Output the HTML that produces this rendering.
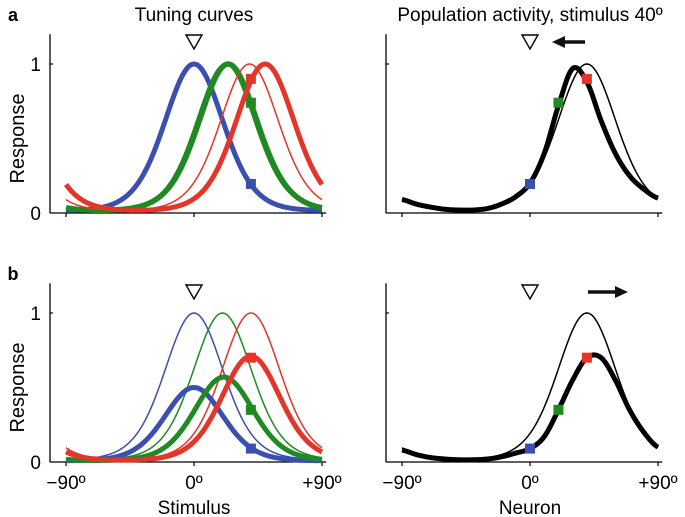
<!DOCTYPE html>
<html><head><meta charset="utf-8">
<style>
body{margin:0;background:#fff;}
svg{display:block;font-family:"Liberation Sans",Arial,sans-serif;}
</style></head>
<body>
<svg id="fig" width="685" height="517" viewBox="0 0 685 517"></svg>
<script>
// ---- data ----
const tuneTopMu   = [0, 22, 24, 39, 50];
const tuneTopAmp  = [1, 1, 1, 1, 1];
const tuneTopThick= [1, 0, 1, 0, 1];
const tuneTopColor= ['blue','green','green','red','red'];
const tuneBotMu   = [0, 20, 40, 0, 21, 40];
const tuneBotAmp  = [1, 1, 1, 0.5, 0.57, 0.71];
const tuneBotThick= [0, 0, 0, 1, 1, 1];
const tuneBotColor= ['blue','green','red','blue','green','red'];
const stimulus = 40;
const neurons = [-90,-80,-70,-60,-50,-40,-30,-20,-10,0,10,20,30,40,50,60,70,80,90];
const popTop = [0.09,0.06,0.04,0.025,0.02,0.02,0.03,0.06,0.11,0.2,0.4,0.72,0.97,0.88,0.62,0.4,0.25,0.16,0.1];
const popBot = [0.08,0.05,0.03,0.02,0.015,0.015,0.02,0.035,0.06,0.09,0.17,0.35,0.55,0.7,0.7,0.55,0.35,0.2,0.1];
const popThinMu = [40, 40];
const sqNeuron = [0, 20, 40];
const sqTop = [0.195, 0.74, 0.9];
const sqBot = [0.09, 0.35, 0.7];
const sqColor = ['blue','green','red'];
const xTicks = [-90, 0, 90];
const xTickLabels = ['\u221290\u00ba','0\u00ba','+90\u00ba'];
const K = 2;

const COL = {blue:'#3a4fae', green:'#1f8a22', red:'#e4352a'};
const svg = document.getElementById('fig');
const NS = 'http://www.w3.org/2000/svg';
function mk(tag, attrs, parent){const e=document.createElementNS(NS,tag);for(const k in attrs)e.setAttribute(k,attrs[k]);(parent||svg).appendChild(e);return e;}
function vm(x, mu, a){return a*Math.exp(K*(Math.cos(2*(x-mu)*Math.PI/180)-1));}

function panel(x0, y0, name){
  const p = {sx: d=>x0 + d*128/90, sy: v=>y0 - v*149, g: mk('g',{})};
  
  
  return p;
}
function axes(p, axX, labels, name){
  const g = mk('g',{},p.g);
  
  
  const yl = mk('line',{x1:axX,y1:p.sy(1.2),x2:axX,y2:p.sy(0),stroke:'#000','stroke-width':1.3},g);
   
  const xl = mk('line',{x1:axX,y1:p.sy(0),x2:p.sx(93),y2:p.sy(0),stroke:'#000','stroke-width':1.3},g);
   
  xTicks.forEach(t=>{const l=mk('line',{x1:p.sx(t),y1:p.sy(0),x2:p.sx(t),y2:p.sy(0)+4,stroke:'#000','stroke-width':1.2},g);
     });
  mk('line',{x1:axX,y1:p.sy(1),x2:axX+3,y2:p.sy(1),stroke:'#000','stroke-width':1.2},g);
  if(labels){
    [[0,'0'],[1,'1']].forEach(([v,s])=>{const t=mk('text',{x:axX-9,y:p.sy(v)+7,'text-anchor':'end','font-size':19},g);t.textContent=s;
       });
    const r=mk('text',{x:0,y:0,'text-anchor':'middle','font-size':20,transform:`translate(24,${p.sy(0.5)}) rotate(-90)`},g);
    r.textContent='Response';  
  }
}
function curveFn(p, f, color, w, name){
  let d='';
  for(let x=-90;x<=90;x+=1){d+=(x===-90?'M':'L')+p.sx(x).toFixed(2)+','+p.sy(f(x)).toFixed(2);}
  const e=mk('path',{d,fill:'none',stroke:color,'stroke-width':w,'stroke-linejoin':'round'},p.g);
   
}
function interp(xs, ys){
  return x=>{
    let i=Math.min(Math.max(0,Math.floor((x-xs[0])/(xs[1]-xs[0]))),xs.length-2);
    const t=(x-xs[i])/(xs[i+1]-xs[i]);
    const y0=ys[Math.max(i-1,0)],y1=ys[i],y2=ys[i+1],y3=ys[Math.min(i+2,ys.length-1)];
    return 0.5*((2*y1)+(-y0+y2)*t+(2*y0-5*y1+4*y2-y3)*t*t+(-y0+3*y1-3*y2+y3)*t*t*t);
  };
}
function square(p, n, v, color, name){
  const e=mk('rect',{x:p.sx(n)-5,y:p.sy(v)-5,width:10,height:10,fill:color},p.g);
   
}
function triangle(p, y, name){
  const x=p.sx(0);
  const e=mk('path',{d:`M${x-8},${y-7} L${x+8},${y-7} L${x},${y+7} Z`,fill:'#fff',stroke:'#000','stroke-width':1.4},p.g);
   
}
function arrow(x1,x2,y,name){
  const g=mk('g',{});
   
  const dir=Math.sign(x2-x1);
  mk('line',{x1,y1:y,x2:x2-dir*10,y2:y,stroke:'#111','stroke-width':3.5},g);
  mk('path',{d:`M${x2},${y} L${x2-dir*13},${y-6} L${x2-dir*13},${y+6} Z`,fill:'#111'},g);
}
function text(x,y,s,size,name,extra){
  const t=mk('text',Object.assign({x,y,'font-size':size,'text-anchor':'middle'},extra||{}));t.textContent=s;
   
}

const A=panel(194,213,'tuning-curves-a');
axes(A,50,true,'axes-a-left');
tuneTopMu.forEach((mu,i)=>curveFn(A,x=>vm(x,mu,tuneTopAmp[i]),COL[tuneTopColor[i]],tuneTopThick[i]?(tuneTopColor[i]==='green'?5.5:5):1.5,'tuning-curve-'+tuneTopColor[i]));
square(A,stimulus,sqTop[0],COL.blue,'response-blue');
square(A,stimulus,sqTop[1],COL.green,'response-green');
square(A,stimulus,sqTop[2],COL.red,'response-red');
triangle(A,42,'stimulus-marker');

const B=panel(530,213,'population-a');
axes(B,386,false,'axes-a-right');
curveFn(B,x=>vm(x,popThinMu[0],1),'#000',1.5,'population-reference');
curveFn(B,interp(neurons,popTop),'#000',5,'population-activity');
sqNeuron.forEach((n,i)=>square(B,n,sqTop[i],COL[sqColor[i]],'neuron-'+sqColor[i]));
triangle(B,42,'stimulus-marker');
arrow(585,552,42,'shift-arrow-left');

const C=panel(194,462,'tuning-curves-b');
axes(C,50,true,'axes-b-left');
tuneBotMu.forEach((mu,i)=>curveFn(C,x=>vm(x,mu,tuneBotAmp[i]),COL[tuneBotColor[i]],tuneBotThick[i]?5:1.5,'tuning-curve-'+tuneBotColor[i]));
sqColor.forEach((c,i)=>square(C,stimulus,sqBot[i],COL[c],'response-'+c));
triangle(C,292,'stimulus-marker');

const D=panel(530,462,'population-b');
axes(D,386,false,'axes-b-right');
curveFn(D,x=>vm(x,popThinMu[1],1),'#000',1.5,'population-reference');
curveFn(D,interp(neurons,popBot),'#000',5,'population-activity');
sqNeuron.forEach((n,i)=>square(D,n,sqBot[i],COL[sqColor[i]],'neuron-'+sqColor[i]));
triangle(D,292,'stimulus-marker');
arrow(588,628,292,'shift-arrow-right');

text(194,21,'Tuning curves',19,'title-tuning');
text(530,21,'Population activity, stimulus 40\u00ba',19,'title-population');
text(13,21,'a',18,'panel-label-a',{'font-weight':'bold'});
text(13,280,'b',18,'panel-label-b',{'font-weight':'bold'});
xTicks.forEach((t,i)=>{text(C.sx(t),489,xTickLabels[i],19,'x-tick-label');text(D.sx(t),489,xTickLabels[i],19,'x-tick-label');});
text(194,514,'Stimulus',19,'x-axis-title-stimulus');
text(530,514,'Neuron',19,'x-axis-title-neuron');
</script>
</body></html>
